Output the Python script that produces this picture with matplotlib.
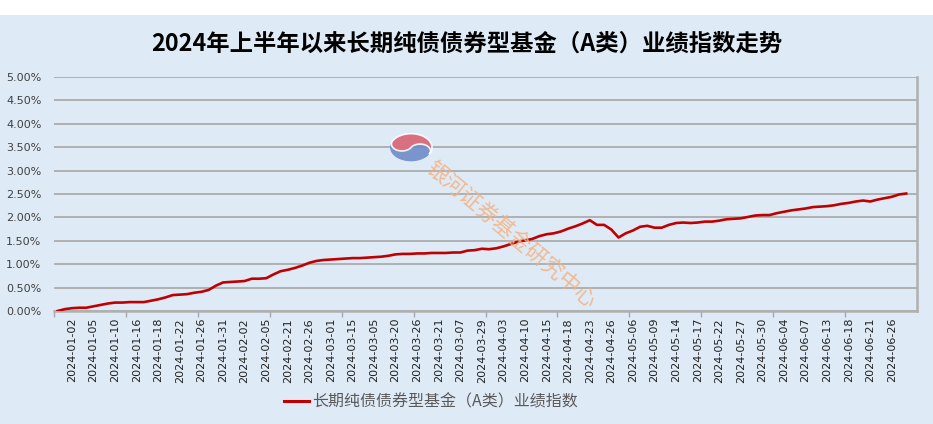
#!/usr/bin/env python3
import numpy as np
import matplotlib
matplotlib.use('Agg')
import matplotlib.pyplot as plt
from matplotlib.ticker import FixedLocator, FuncFormatter
from matplotlib.patches import Ellipse, Polygon, Rectangle

'''
2024 H1 performance index of long-term pure bond funds (class A).
'''

TITLE = '2024年上半年以来长期纯债债券型基金（A类）业绩指数走势'
SERIES_NAME = '长期纯债债券型基金（A类）业绩指数'
WATERMARK = '银河证券基金研究中心'

# one value per trading day, percent
index_pct = [
    0.00, 0.04, 0.06, 0.07, 0.07, 0.10, 0.13, 0.16, 0.18, 0.18,
    0.19, 0.19, 0.19, 0.22, 0.25, 0.29, 0.34, 0.35, 0.36, 0.39,
    0.41, 0.45, 0.54, 0.61, 0.62, 0.63, 0.64, 0.69, 0.69, 0.70,
    0.78, 0.85, 0.88, 0.92, 0.97, 1.03, 1.07, 1.09, 1.10, 1.11,
    1.12, 1.13, 1.13, 1.14, 1.15, 1.16, 1.18, 1.21, 1.22, 1.22,
    1.23, 1.23, 1.24, 1.24, 1.24, 1.25, 1.25, 1.29, 1.30, 1.33,
    1.32, 1.34, 1.38, 1.43, 1.48, 1.51, 1.54, 1.60, 1.64, 1.66,
    1.70, 1.76, 1.81, 1.87, 1.94, 1.84, 1.84, 1.74, 1.57, 1.66,
    1.72, 1.80, 1.82, 1.78, 1.78, 1.84, 1.88, 1.89, 1.88, 1.89,
    1.91, 1.91, 1.93, 1.96, 1.97, 1.98, 2.01, 2.04, 2.05, 2.05,
    2.09, 2.12, 2.15, 2.17, 2.19, 2.22, 2.23, 2.24, 2.26, 2.29,
    2.31, 2.34, 2.36, 2.34, 2.38, 2.41, 2.44, 2.49, 2.51,
]

# axis shows every third category label
date_labels = [
    '2024-01-02', '2024-01-05', '2024-01-10', '2024-01-16', '2024-01-18',
    '2024-01-22', '2024-01-26', '2024-01-31', '2024-02-02', '2024-02-05',
    '2024-02-21', '2024-02-26', '2024-03-01', '2024-03-15', '2024-03-05',
    '2024-03-20', '2024-03-26', '2024-03-21', '2024-03-07', '2024-03-29',
    '2024-04-03', '2024-04-10', '2024-04-15', '2024-04-18', '2024-04-23',
    '2024-04-26', '2024-05-06', '2024-05-09', '2024-05-14', '2024-05-17',
    '2024-05-22', '2024-05-27', '2024-05-30', '2024-06-04', '2024-06-07',
    '2024-06-13', '2024-06-18', '2024-06-21', '2024-06-26',
]

y_ticks = [0.0, 0.5, 1.0, 1.5, 2.0, 2.5, 3.0, 3.5, 4.0, 4.5, 5.0]

BG = '#DEEBF7'
GRID = '#A6A6A6'
LINE = '#C00000'
CJK = ['Noto Sans CJK SC', 'DejaVu Sans']


def draw_logo(fig):
    lax = fig.add_axes([389 / 933, 1 - 162 / 424, 44 / 933, 29 / 424])
    lax.set_xlim(-1.05, 1.05)
    lax.set_ylim(-1.05, 1.05)
    lax.axis('off')
    rot = np.deg2rad(-30)
    a = np.linspace(0, np.pi, 60)
    b = np.linspace(np.pi, 2 * np.pi, 40)
    c = np.linspace(np.pi, 0, 40)
    xs = np.concatenate([np.cos(a), -0.5 + 0.5 * np.cos(b), 0.5 + 0.5 * np.cos(c)])
    ys = np.concatenate([np.sin(a), 0.5 * np.sin(b), 0.5 * np.sin(c)])
    xr = xs * np.cos(rot) - ys * np.sin(rot)
    yr = xs * np.sin(rot) + ys * np.cos(rot)
    lax.add_patch(Ellipse((0, 0), 2, 2, facecolor='#6F8CC8', edgecolor='none', alpha=0.9))
    lax.add_patch(Polygon(np.column_stack([xr, yr]), closed=True, facecolor='#E46C7A',
                          edgecolor='white', linewidth=1.2, alpha=0.9))


def main():
    fig = plt.figure(figsize=(9.33, 4.24), dpi=100, facecolor=BG)
    fig.patches.append(Rectangle((0, 1 - 15 / 424), 1, 15 / 424, transform=fig.transFigure,
                                 facecolor='white', edgecolor='none', zorder=0))

    ax = fig.add_axes([54 / 933, 1 - 311 / 424, 863 / 933, 234 / 424])
    ax.set_facecolor(BG)

    x = np.arange(len(index_pct))
    ax.plot(x, index_pct, color=LINE, linewidth=1.9, zorder=5, label=SERIES_NAME)

    ax.set_xlim(-0.5, 119.5)
    ax.set_ylim(0, 5.0)

    ax.set_yticks(y_ticks)
    ax.yaxis.set_major_formatter(FuncFormatter(lambda v, p: '%.2f%%' % v))
    ax.grid(True, axis='y', color=GRID, linewidth=1.2, zorder=1)
    ax.tick_params(axis='y', length=0, pad=9, labelsize=8, labelcolor='#404040')

    label_pos = [2 + 3 * i for i in range(len(date_labels))]
    ax.set_xticks(label_pos)
    ax.set_xticklabels(date_labels, rotation=90, fontsize=8, color='#202020')
    ax.tick_params(axis='x', which='major', length=0, pad=5)
    ax.xaxis.set_minor_locator(FixedLocator([-0.5 + 10 * k for k in range(12)]))
    ax.tick_params(axis='x', which='minor', length=4, width=1, color=GRID, direction='out')

    for side in ['left', 'top']:
        ax.spines[side].set_visible(False)
    ax.spines['bottom'].set_color('#B0B0B0')
    ax.spines['bottom'].set_linewidth(1.8)
    ax.spines['right'].set_color('#B0B0B0')
    ax.spines['right'].set_linewidth(1.8)

    fig.text(0.5, 1 - 44 / 424, TITLE, ha='center', va='center', fontsize=16.8,
             fontweight='bold', family=CJK, color='black')

    leg = ax.legend(loc='center', bbox_to_anchor=(431 / 933, 1 - 402 / 424),
                    bbox_transform=fig.transFigure, frameon=False, handlelength=1.6,
                    handletextpad=0.2, prop={'family': CJK, 'size': 11.5})
    for t in leg.get_texts():
        t.set_color('#595959')
    leg.get_lines()[0].set_linewidth(2.2)

    fig.text(511 / 933, 1 - 235 / 424, WATERMARK, ha='center', va='center', rotation=-40,
             rotation_mode='anchor', fontsize=15.5, family=CJK, color='#F4B183', alpha=0.85,
             zorder=10)

    draw_logo(fig)

    fig.savefig('out.png', dpi=100, facecolor=BG)


if __name__ == "__main__":
    main()
